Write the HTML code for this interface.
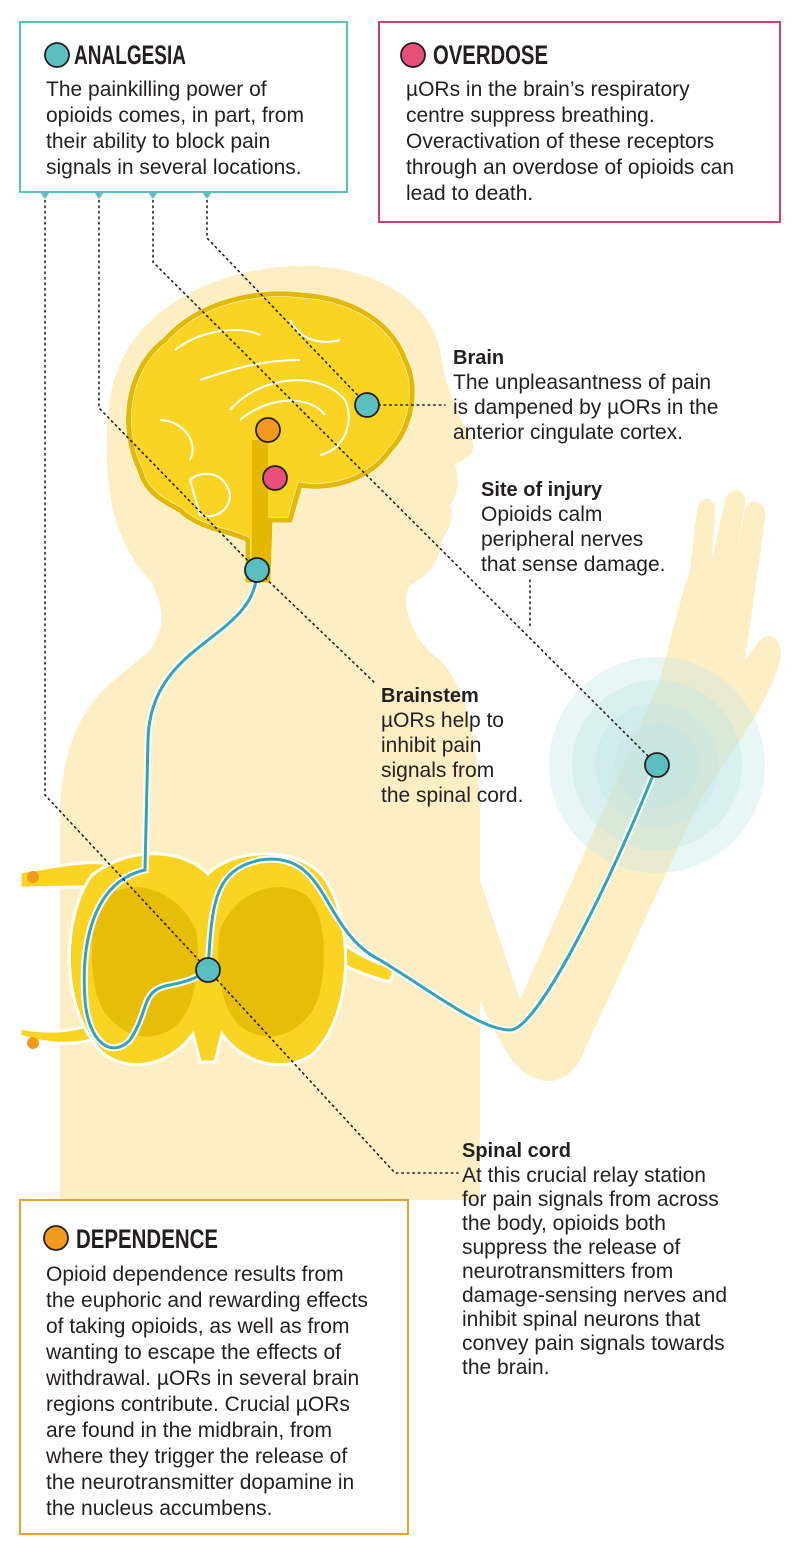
<!DOCTYPE html>
<html><head><meta charset="utf-8"><style>
body{margin:0;background:#fff;}
svg{display:block}
.t{font-family:"Liberation Sans",sans-serif;font-size:21px;fill:#231f20}
.b{font-family:"Liberation Sans",sans-serif;font-size:20px;font-weight:bold;fill:#231f20}
.h{font-family:"Liberation Sans Narrow","Liberation Sans",sans-serif;font-size:27px;font-weight:bold;fill:#231f20}
.dot{fill:none;stroke:#231f20;stroke-width:1.6;stroke-dasharray:1.5 4;stroke-linecap:round}
</style></head><body>
<svg width="800" height="1555" viewBox="0 0 800 1555" xmlns="http://www.w3.org/2000/svg">
<!-- body silhouette -->
<g fill="#fdefc3">
<path d="M290 266 C370 262 430 300 440 350 C445 385 455 410 472 440 C478 455 462 460 455 465 C460 480 458 495 450 505 C455 520 448 530 442 540 C440 560 430 575 410 585 C400 600 410 640 440 660 C470 690 480 760 480 820 L480 1200 L60 1200 L60 820 C60 700 120 680 150 650 C170 620 160 600 150 580 C110 540 100 470 110 400 C120 320 200 272 290 266 Z"/>
<path d="M440 870 C460 940 470 990 500 1040 C520 1085 560 1095 580 1060 L700 800 C740 740 770 700 780 660 C785 640 770 630 760 640 L745 660 L765 520 C768 500 750 495 745 510 L735 560 L745 505 C748 488 730 485 725 500 L712 560 L715 510 C715 495 700 495 697 510 L690 570 C680 600 670 640 660 680 L520 1000 L480 880 Z"/>
</g>
<!-- glow -->
<g fill="#bfe6e6" fill-opacity="0.35">
<circle cx="657" cy="765" r="108"/><circle cx="657" cy="765" r="85"/><circle cx="657" cy="765" r="62"/><circle cx="657" cy="765" r="42"/><circle cx="657" cy="765" r="25"/>
</g>
<!-- brain -->
<path d="M140 470 C120 430 125 370 165 340 C200 300 260 290 300 295 C350 298 390 320 405 360 C420 390 410 430 390 450 C370 480 330 490 300 485 L290 520 L270 520 L268 580 L248 580 L248 540 C230 530 200 530 180 510 C160 500 145 490 140 470 Z" fill="#f9d423" stroke="#fff" stroke-width="6"/>
<path d="M140 470 C120 430 125 370 165 340 C200 300 260 290 300 295 C350 298 390 320 405 360 C420 390 410 430 390 450 C370 480 330 490 300 485 L290 520 L270 520 L268 580 L248 580 L248 540 C230 530 200 530 180 510 C160 500 145 490 140 470 Z" fill="none" stroke="#e2b800" stroke-width="5"/>
<g fill="none" stroke="#fff" stroke-width="2">
<path d="M230 410 C260 375 320 370 345 400 C355 420 345 450 320 455"/>
<path d="M240 420 C270 395 310 395 325 415"/>
<path d="M175 350 C200 330 240 325 260 335"/><path d="M200 380 C230 370 260 360 300 360"/>
<path d="M160 420 C180 420 200 440 190 460"/><path d="M290 320 C300 340 320 345 340 340"/>
<path d="M190 480 C200 470 225 470 230 495 C230 510 215 520 200 515 Z"/>
</g>
<rect x="252" y="440" width="16" height="140" fill="#e5b800"/>
<!-- spinal cord cross section -->
<g fill="#f9d423" stroke="#fff" stroke-width="3">
<path d="M20 872 C60 866 90 858 120 866 L130 892 C100 884 60 888 20 888 Z"/>
<path d="M20 1036 C60 1048 90 1044 110 1032 L105 1018 C80 1032 50 1034 20 1028 Z"/>
<path d="M305 918 C340 940 360 960 395 968 L390 982 C350 972 330 958 300 938 Z"/>
<path d="M92 875 C135 842 188 852 208 874 C228 852 290 842 322 875 C355 918 355 1015 312 1055 C280 1075 242 1062 222 1034 L215 1062 L200 1062 L193 1034 C173 1062 135 1075 105 1055 C60 1015 60 918 92 875 Z"/>
</g>
<path d="M108 895 C140 875 180 895 196 930 C201 962 196 1002 180 1022 C150 1052 106 1032 96 992 C88 950 92 912 108 895 Z M306 895 C274 875 234 895 220 930 C215 962 220 1002 236 1022 C266 1052 310 1032 320 992 C328 950 324 912 306 895 Z" fill="#e2b800" opacity="0.8"/>
<circle cx="33" cy="877" r="6" fill="#f29a1e"/><circle cx="33" cy="1043" r="6" fill="#f29a1e"/>
<!-- nerve -->
<path d="M257 570 C257 640 150 640 148 740 L145 870 C100 880 80 930 85 1000 C88 1040 110 1060 130 1040 C150 1010 140 990 170 985 C195 980 200 975 208 970 C212 900 215 870 260 860 C330 850 320 930 380 960 C430 990 480 1030 510 1030 C540 1030 620 860 657 765" fill="none" stroke="#fff" stroke-width="7"/>
<path d="M257 570 C257 640 150 640 148 740 L145 870 C100 880 80 930 85 1000 C88 1040 110 1060 130 1040 C150 1010 140 990 170 985 C195 980 200 975 208 970 C212 900 215 870 260 860 C330 850 320 930 380 960 C430 990 480 1030 510 1030 C540 1030 620 860 657 765" fill="none" stroke="#2fa5b5" stroke-width="3"/>
<!-- dotted connectors -->
<path class="dot" d="M45 195 L45 795 L208 970 L395 1173 L458 1173"/>
<path class="dot" d="M99 195 L99 408 L257 570 L376 684"/>
<path class="dot" d="M153 195 L153 262 L657 765"/>
<path class="dot" d="M530 580 L530 628"/>
<path class="dot" d="M207 195 L207 238 L367 405 L445 405"/>
<!-- markers -->
<g stroke="#231f20" stroke-width="1.8">
<circle cx="367" cy="405" r="12" fill="#5bbfbf"/><circle cx="257" cy="570" r="12" fill="#5bbfbf"/>
<circle cx="208" cy="970" r="12" fill="#5bbfbf"/><circle cx="657" cy="765" r="12" fill="#5bbfbf"/>
<circle cx="268" cy="430" r="12" fill="#f29a1e"/><circle cx="275" cy="478" r="12" fill="#e84f78"/>
</g>
<!-- boxes -->
<rect x="20" y="22" width="327" height="170" fill="#fff" stroke="#5bbfbf" stroke-width="2"/>
<path d="M40 192 l5 7 l5 -7 M94 192 l5 7 l5 -7 M148 192 l5 7 l5 -7 M202 192 l5 7 l5 -7" fill="#5bbfbf"/>
<circle cx="57" cy="55" r="12" fill="#5bbfbf" stroke="#231f20" stroke-width="1.8"/>
<text class="h" x="74" y="64" textLength="112" lengthAdjust="spacingAndGlyphs">ANALGESIA</text>
<text class="t"><tspan x="46" y="96">The painkilling power of</tspan><tspan x="46" y="122">opioids comes, in part, from</tspan><tspan x="46" y="148">their ability to block pain</tspan><tspan x="46" y="174">signals in several locations.</tspan></text>
<rect x="379" y="22" width="401" height="200" fill="#fff" stroke="#c8436a" stroke-width="2"/>
<circle cx="413" cy="55" r="12" fill="#e84f78" stroke="#231f20" stroke-width="1.8"/>
<text class="h" x="433" y="64" textLength="115" lengthAdjust="spacingAndGlyphs">OVERDOSE</text>
<text class="t"><tspan x="406" y="96">µORs in the brain’s respiratory</tspan><tspan x="406" y="122">centre suppress breathing.</tspan><tspan x="406" y="148">Overactivation of these receptors</tspan><tspan x="406" y="174">through an overdose of opioids can</tspan><tspan x="406" y="200">lead to death.</tspan></text>
<rect x="20" y="1200" width="388" height="334" fill="#fff" stroke="#e8a030" stroke-width="2"/>
<circle cx="56" cy="1238" r="12" fill="#f29a1e" stroke="#231f20" stroke-width="1.8"/>
<text class="h" x="76" y="1248" textLength="142" lengthAdjust="spacingAndGlyphs">DEPENDENCE</text>
<text class="t"><tspan x="46" y="1281">Opioid dependence results from</tspan><tspan x="46" y="1307">the euphoric and rewarding effects</tspan><tspan x="46" y="1333">of taking opioids, as well as from</tspan><tspan x="46" y="1359">wanting to escape the effects of</tspan><tspan x="46" y="1385">withdrawal. µORs in several brain</tspan><tspan x="46" y="1411">regions contribute. Crucial µORs</tspan><tspan x="46" y="1437">are found in the midbrain, from</tspan><tspan x="46" y="1463">where they trigger the release of</tspan><tspan x="46" y="1489">the neurotransmitter dopamine in</tspan><tspan x="46" y="1515">the nucleus accumbens.</tspan></text>
<!-- labels -->
<text class="b" x="453" y="364">Brain</text>
<text class="t"><tspan x="453" y="389">The unpleasantness of pain</tspan><tspan x="453" y="414">is dampened by µORs in the</tspan><tspan x="453" y="439">anterior cingulate cortex.</tspan></text>
<text class="b" x="481" y="496">Site of injury</text>
<text class="t"><tspan x="481" y="521">Opioids calm</tspan><tspan x="481" y="546">peripheral nerves</tspan><tspan x="481" y="571">that sense damage.</tspan></text>
<text class="b" x="381" y="702">Brainstem</text>
<text class="t"><tspan x="381" y="727">µORs help to</tspan><tspan x="381" y="752">inhibit pain</tspan><tspan x="381" y="777">signals from</tspan><tspan x="381" y="802">the spinal cord.</tspan></text>
<text class="b" x="462" y="1157">Spinal cord</text>
<text class="t"><tspan x="462" y="1182">At this crucial relay station</tspan><tspan x="462" y="1206">for pain signals from across</tspan><tspan x="462" y="1230">the body, opioids both</tspan><tspan x="462" y="1254">suppress the release of</tspan><tspan x="462" y="1278">neurotransmitters from</tspan><tspan x="462" y="1302">damage-sensing nerves and</tspan><tspan x="462" y="1326">inhibit spinal neurons that</tspan><tspan x="462" y="1350">convey pain signals towards</tspan><tspan x="462" y="1374">the brain.</tspan></text>
</svg>
</body></html>
